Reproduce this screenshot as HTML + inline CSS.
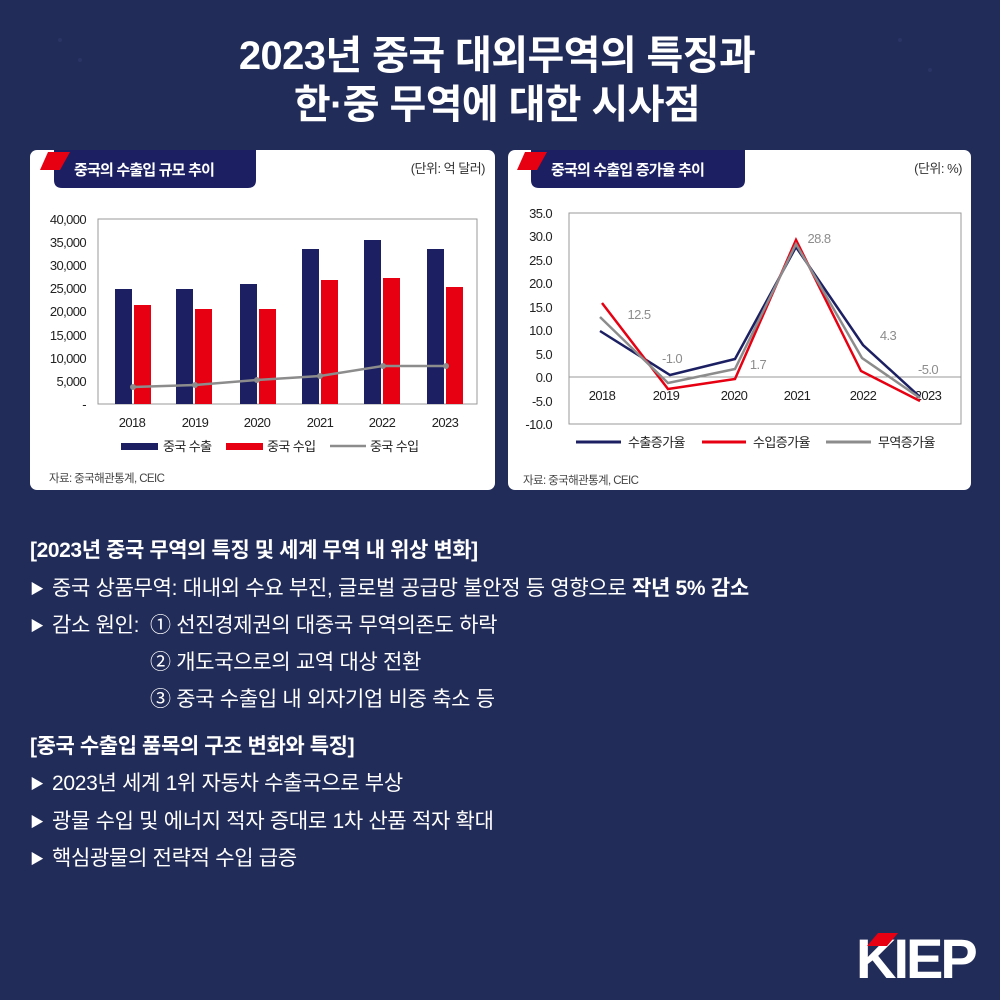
<!DOCTYPE html>
<html><head><meta charset="utf-8"><style>
html,body{margin:0;padding:0;width:1000px;height:1000px;background:#222c58;overflow:hidden}
svg{display:block}
text{font-family:"Liberation Sans","Noto Sans CJK KR",sans-serif}
</style></head><body>
<svg width="1000" height="1000" viewBox="0 0 1000 1000">
<rect width="1000" height="1000" fill="#222c58"/>
<g fill="#2a3566">
<circle cx="60" cy="40" r="2"/><circle cx="80" cy="60" r="2"/><circle cx="900" cy="40" r="2"/><circle cx="930" cy="70" r="2"/>
</g>
<g fill="#fff" font-weight="bold" font-size="40" text-anchor="middle" letter-spacing="-0.6">
<text x="497" y="69">2023년 중국 대외무역의 특징과</text>
<text x="497" y="118">한·중 무역에 대한 시사점</text>
</g>

<!-- left panel -->
<rect x="30" y="150" width="465" height="340" rx="7" fill="#fff"/>
<path d="M54 150 H256 V180 Q256 188 248 188 H62 Q54 188 54 180Z" fill="#1c2063"/>
<path d="M48 152 H70 L60 170 H40Z" fill="#e60012"/>
<text x="74" y="175" font-size="15" font-weight="bold" fill="#fff" letter-spacing="-0.8">중국의 수출입 규모 추이</text>
<text x="485" y="173" font-size="13" fill="#333" text-anchor="end" letter-spacing="-0.5">(단위: 억 달러)</text>
<rect x="98" y="219" width="379" height="185" fill="none" stroke="#999" stroke-width="1"/>
<g font-size="13" fill="#222" text-anchor="end" letter-spacing="-0.6">
<text x="86" y="224">40,000</text><text x="86" y="247">35,000</text><text x="86" y="270">30,000</text><text x="86" y="293">25,000</text><text x="86" y="316">20,000</text><text x="86" y="340">15,000</text><text x="86" y="363">10,000</text><text x="86" y="386">5,000</text><text x="86" y="409">-</text>
</g>
<g fill="#1c2063">
<rect x="115" y="289" width="17" height="115"/><rect x="176" y="289" width="17" height="115"/><rect x="240" y="284" width="17" height="120"/><rect x="302" y="249" width="17" height="155"/><rect x="364" y="240" width="17" height="164"/><rect x="427" y="249" width="17" height="155"/>
</g>
<g fill="#e60012">
<rect x="134" y="305" width="17" height="99"/><rect x="195" y="309" width="17" height="95"/><rect x="259" y="309" width="17" height="95"/><rect x="321" y="280" width="17" height="124"/><rect x="383" y="278" width="17" height="126"/><rect x="446" y="287" width="17" height="117"/>
</g>
<polyline points="133,387 195,385 257,380 320,376 383,366 446,366" fill="none" stroke="#8c8c8c" stroke-width="2.5"/>
<g fill="#8c8c8c"><circle cx="133" cy="387" r="3"/><circle cx="195" cy="385" r="3"/><circle cx="257" cy="380" r="3"/><circle cx="320" cy="376" r="3"/><circle cx="383" cy="366" r="3"/><circle cx="446" cy="366" r="3"/></g>
<g font-size="13" fill="#222" text-anchor="middle" letter-spacing="-0.6">
<text x="132" y="427">2018</text><text x="195" y="427">2019</text><text x="257" y="427">2020</text><text x="320" y="427">2021</text><text x="382" y="427">2022</text><text x="445" y="427">2023</text>
</g>
<rect x="121" y="443" width="37" height="7" fill="#1c2063"/>
<rect x="226" y="443" width="37" height="7" fill="#e60012"/>
<line x1="330" y1="446" x2="366" y2="446" stroke="#8c8c8c" stroke-width="2.5"/>
<g font-size="13" fill="#222" letter-spacing="-0.6">
<text x="163" y="451">중국 수출</text><text x="267" y="451">중국 수입</text><text x="370" y="451">중국 수입</text>
<text x="49" y="482" font-size="11.5" fill="#444">자료: 중국해관통계, CEIC</text>
</g>

<!-- right panel -->
<rect x="508" y="150" width="463" height="340" rx="7" fill="#fff"/>
<path d="M531 150 H745 V180 Q745 188 737 188 H539 Q531 188 531 180Z" fill="#1c2063"/>
<path d="M525 152 H547 L537 170 H517Z" fill="#e60012"/>
<text x="551" y="175" font-size="15" font-weight="bold" fill="#fff" letter-spacing="-0.8">중국의 수출입 증가율 추이</text>
<text x="962" y="173" font-size="13" fill="#333" text-anchor="end" letter-spacing="-0.5">(단위: %)</text>
<rect x="569" y="213" width="392" height="211" fill="none" stroke="#999" stroke-width="1"/>
<line x1="569" y1="377" x2="961" y2="377" stroke="#999" stroke-width="1"/>
<g font-size="13" fill="#222" text-anchor="end" letter-spacing="-0.6">
<text x="552" y="218">35.0</text><text x="552" y="241">30.0</text><text x="552" y="265">25.0</text><text x="552" y="288">20.0</text><text x="552" y="312">15.0</text><text x="552" y="335">10.0</text><text x="552" y="359">5.0</text><text x="552" y="382">0.0</text><text x="552" y="406">-5.0</text><text x="552" y="429">-10.0</text>
</g>
<g font-size="13" fill="#222" text-anchor="middle" letter-spacing="-0.6">
<text x="602" y="400">2018</text><text x="666" y="400">2019</text><text x="734" y="400">2020</text><text x="797" y="400">2021</text><text x="863" y="400">2022</text><text x="928" y="400">2023</text>
</g>
<polyline points="600,331 670,375 735,359 796,247 863,345 920,397" fill="none" stroke="#1c2063" stroke-width="2.5"/>
<polyline points="602,303 668,389 735,379 796,240 861,371 920,401" fill="none" stroke="#e60012" stroke-width="2.5"/>
<polyline points="600,317 668,383 735,369 796,244 862,358 920,398" fill="none" stroke="#8c8c8c" stroke-width="2.5"/>
<g font-size="13" fill="#8c8c8c" text-anchor="middle" letter-spacing="-0.6">
<text x="639" y="319">12.5</text><text x="672" y="363">-1.0</text><text x="758" y="369">1.7</text><text x="819" y="243">28.8</text><text x="888" y="340">4.3</text><text x="928" y="374">-5.0</text>
</g>
<line x1="576" y1="442" x2="621" y2="442" stroke="#1c2063" stroke-width="3"/>
<line x1="702" y1="442" x2="746" y2="442" stroke="#e60012" stroke-width="3"/>
<line x1="826" y1="442" x2="871" y2="442" stroke="#8c8c8c" stroke-width="3"/>
<g font-size="13" fill="#222" letter-spacing="-0.6">
<text x="628" y="447">수출증가율</text><text x="753" y="447">수입증가율</text><text x="878" y="447">무역증가율</text>
<text x="523" y="484" font-size="11.5" fill="#444">자료: 중국해관통계, CEIC</text>
</g>

<!-- body text -->
<g fill="#fff" font-size="21" letter-spacing="-0.3">
<text x="30" y="557" font-weight="bold" letter-spacing="-0.4">[2023년 중국 무역의 특징 및 세계 무역 내 위상 변화]</text>
<text x="30" y="594" font-size="14">▶</text><text x="52" y="595">중국 상품무역: 대내외 수요 부진, 글로벌 공급망 불안정 등 영향으로 <tspan font-weight="bold">작년 5% 감소</tspan></text>
<text x="30" y="631" font-size="14">▶</text><text x="52" y="632">감소 원인:</text><text x="150" y="632">① 선진경제권의 대중국 무역의존도 하락</text>
<text x="150" y="669">② 개도국으로의 교역 대상 전환</text>
<text x="150" y="706">③ 중국 수출입 내 외자기업 비중 축소 등</text>
<text x="30" y="753" font-weight="bold" letter-spacing="-0.4">[중국 수출입 품목의 구조 변화와 특징]</text>
<text x="30" y="789" font-size="14">▶</text><text x="52" y="790">2023년 세계 1위 자동차 수출국으로 부상</text>
<text x="30" y="827" font-size="14">▶</text><text x="52" y="828">광물 수입 및 에너지 적자 증대로 1차 산품 적자 확대</text>
<text x="30" y="864" font-size="14">▶</text><text x="52" y="865">핵심광물의 전략적 수입 급증</text>
</g>

<!-- logo -->
<g fill="#fff" font-weight="bold" font-size="56" letter-spacing="-3">
<text x="856" y="978" font-family="Liberation Sans, sans-serif">KIEP</text>
</g>
<path d="M878 933 H898 L887 946 H867Z" fill="#e60012"/>
</svg>
</body></html>
